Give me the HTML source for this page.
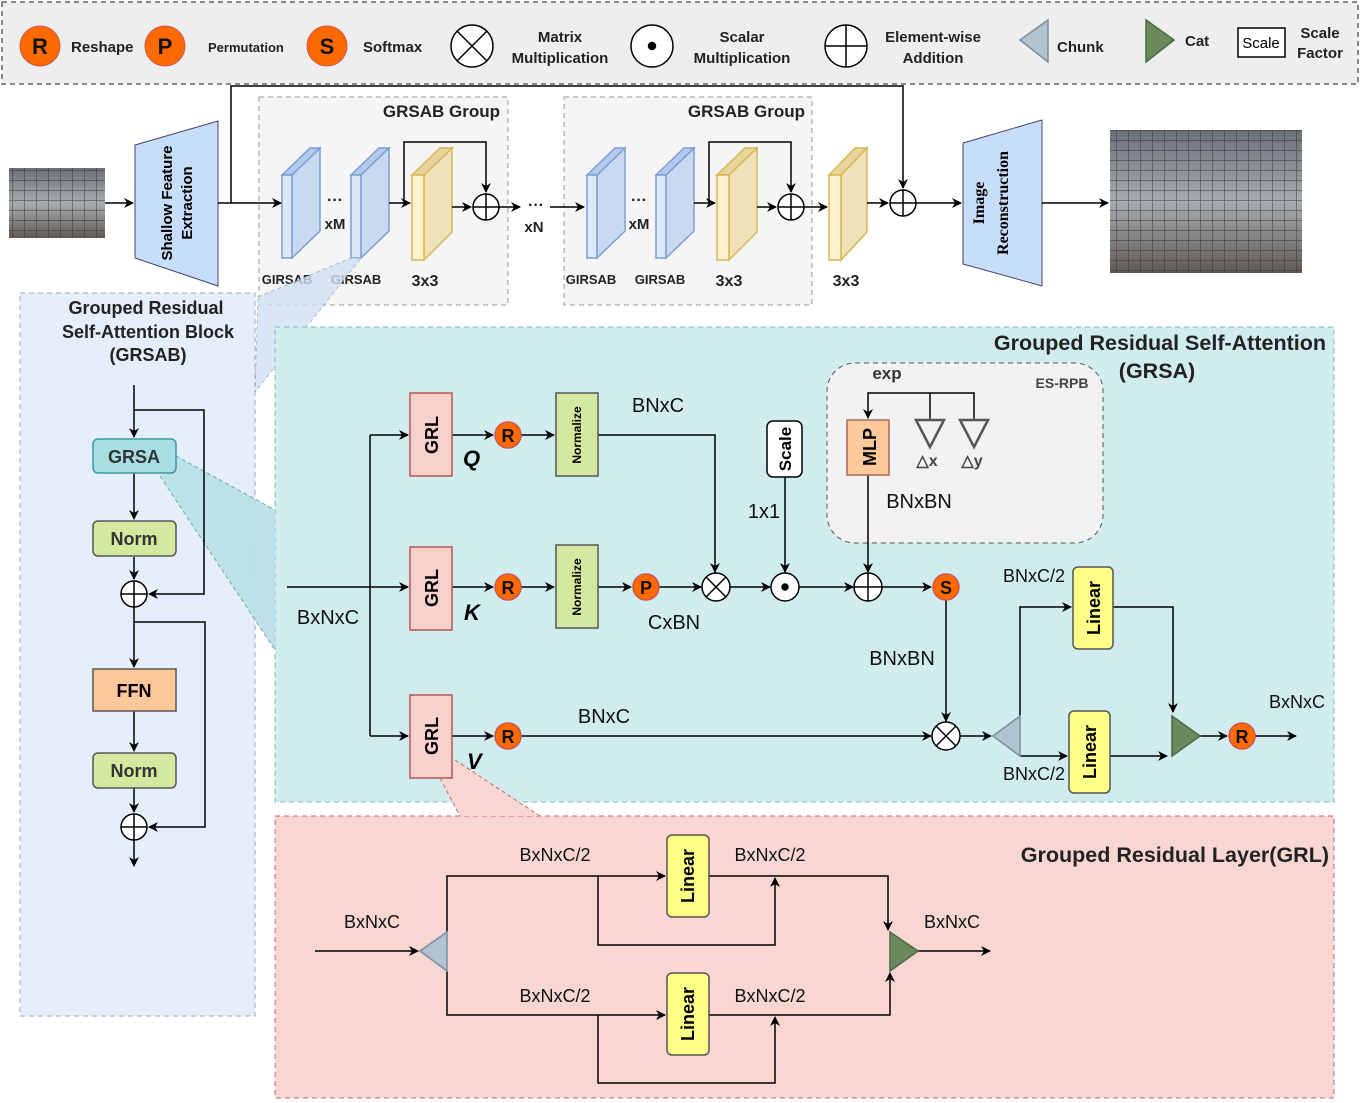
<!DOCTYPE html>
<html><head><meta charset="utf-8"><style>
html,body{margin:0;padding:0;background:#fff;}
svg{display:block;font-family:"Liberation Sans",Arial,sans-serif;}
.b{font-weight:bold;}
</style></head><body>
<svg width="1363" height="1103" viewBox="0 0 1363 1103" xmlns="http://www.w3.org/2000/svg">
<defs>
<marker id="a" markerWidth="10" markerHeight="10" refX="9" refY="5" orient="auto" markerUnits="userSpaceOnUse"><path d="M0,0 L10,5 L0,10 L3,5 z" fill="#000"/></marker>
<linearGradient id="img" x1="0" y1="0" x2="0" y2="1"><stop offset="0" stop-color="#6a7078"/><stop offset="0.5" stop-color="#a8acb0"/><stop offset="1" stop-color="#605a56"/></linearGradient>
<pattern id="grid" width="12" height="10" patternUnits="userSpaceOnUse"><path d="M0,0 H12 M0,0 V10" stroke="#2a2f2a" stroke-width="1.5" fill="none"/></pattern>
</defs>
<g fill="none" stroke="#000" stroke-width="1.5">
<rect x="2" y="2" width="1356" height="82" fill="#eeeeee" stroke="#666" stroke-dasharray="5,4"/>
</g>
<g font-size="15" class="b" fill="#222">
<circle cx="40" cy="46" r="20" fill="#ff6a00" stroke="#c55"/><text x="40" y="54" font-size="22" text-anchor="middle" fill="#111">R</text>
<text x="71" y="52">Reshape</text>
<circle cx="165" cy="46" r="20" fill="#ff6a00" stroke="#c55"/><text x="165" y="54" font-size="22" text-anchor="middle" fill="#111">P</text>
<text x="208" y="52" font-size="13">Permutation</text>
<circle cx="327" cy="46" r="20" fill="#ff6a00" stroke="#c55"/><text x="327" y="54" font-size="22" text-anchor="middle" fill="#111">S</text>
<text x="363" y="52">Softmax</text>
<text x="560" y="42" text-anchor="middle">Matrix</text><text x="560" y="63" text-anchor="middle">Multiplication</text>
<text x="742" y="42" text-anchor="middle">Scalar</text><text x="742" y="63" text-anchor="middle">Multiplication</text>
<text x="933" y="42" text-anchor="middle">Element-wise</text><text x="933" y="63" text-anchor="middle">Addition</text>
<text x="1057" y="52">Chunk</text>
<text x="1185" y="46">Cat</text>
<text x="1320" y="38" text-anchor="middle">Scale</text><text x="1320" y="58" text-anchor="middle">Factor</text>
</g>
<g stroke="#000" stroke-width="1.5" fill="#fff">
<circle cx="472" cy="46" r="21"/><path d="M457,31 L487,61 M487,31 L457,61"/>
<circle cx="652" cy="46" r="21"/><circle cx="652" cy="46" r="3.5" fill="#000"/>
<circle cx="846" cy="46" r="21"/><path d="M825,46 H867 M846,25 V67"/>
<polygon points="1020,40 1048,20 1048,62" fill="#b3c3d0" stroke="#7890a0"/>
<polygon points="1146,20 1146,62 1174,40" fill="#6a8a5e" stroke="#4a6a40"/>
<rect x="1238" y="28" width="47" height="29"/>
</g>
<text x="1261" y="48" font-size="15" text-anchor="middle">Scale</text>

<rect x="9" y="168" width="96" height="70" fill="url(#img)"/><rect x="9" y="168" width="96" height="70" fill="url(#grid)" opacity="0.6"/>
<rect x="1110" y="130" width="192" height="143" fill="url(#img)"/><rect x="1110" y="130" width="192" height="143" fill="url(#grid)" opacity="0.6"/>
<rect x="259" y="97" width="249" height="208" fill="#f5f5f5" stroke="#999" stroke-dasharray="5,4"/>
<rect x="564" y="97" width="248" height="208" fill="#f5f5f5" stroke="#999" stroke-dasharray="5,4"/>
<text x="500" y="117" font-size="17" class="b" text-anchor="end" fill="#222">GRSAB Group</text>
<text x="805" y="117" font-size="17" class="b" text-anchor="end" fill="#222">GRSAB Group</text>
<polygon points="135,145 218,121 218,286 135,258" fill="#c6def8" stroke="#446"/>
<text transform="translate(172,203) rotate(-90)" font-size="15" class="b" text-anchor="middle">Shallow Feature</text>
<text transform="translate(192,203) rotate(-90)" font-size="15" class="b" text-anchor="middle">Extraction</text>
<polygon points="963,143 1042,120 1042,286 963,264" fill="#c6def8" stroke="#446"/>
<text transform="translate(984,203) rotate(-90)" font-size="16" class="b" text-anchor="middle" font-family="Liberation Serif,serif">Image</text>
<text transform="translate(1008,203) rotate(-90)" font-size="16" class="b" text-anchor="middle" font-family="Liberation Serif,serif">Reconstruction</text>

<g stroke-width="1.5">
<g fill="#c9d9f0" stroke="#7a9fd6">
<polygon points="292,175 320,148 320,231 292,258"/><polygon points="282,175 310,148 320,148 292,175" fill="#b5c9ea"/><rect x="282" y="175" width="10" height="83" fill="#dce8f8"/>
<polygon points="361,175 389,148 389,231 361,258"/><polygon points="351,175 379,148 389,148 361,175" fill="#b5c9ea"/><rect x="351" y="175" width="10" height="83" fill="#dce8f8"/>
<polygon points="597,175 625,148 625,231 597,258"/><polygon points="587,175 615,148 625,148 597,175" fill="#b5c9ea"/><rect x="587" y="175" width="10" height="83" fill="#dce8f8"/>
<polygon points="666,175 694,148 694,231 666,258"/><polygon points="656,175 684,148 694,148 666,175" fill="#b5c9ea"/><rect x="656" y="175" width="10" height="83" fill="#dce8f8"/>
</g>
<g fill="#f0e2b8" stroke="#d6b656">
<polygon points="424,175 452,148 452,232 424,260"/><polygon points="412,175 440,148 452,148 424,175" fill="#e8d59c"/><rect x="412" y="175" width="12" height="85" fill="#fff2cc"/>
<polygon points="729,175 757,148 757,232 729,260"/><polygon points="717,175 745,148 757,148 729,175" fill="#e8d59c"/><rect x="717" y="175" width="12" height="85" fill="#fff2cc"/>
<polygon points="841,175 867,148 867,232 841,260"/><polygon points="829,175 855,148 867,148 841,175" fill="#e8d59c"/><rect x="829" y="175" width="12" height="85" fill="#fff2cc"/>
</g>
</g>
<g font-size="13" class="b" fill="#222" text-anchor="middle">
<text x="287" y="284">GIRSAB</text><text x="356" y="284">GIRSAB</text>
<text x="591" y="284">GIRSAB</text><text x="660" y="284">GIRSAB</text>
<text x="425" y="286" font-size="16">3x3</text><text x="729" y="286" font-size="16">3x3</text><text x="846" y="286" font-size="16">3x3</text>
<text x="335" y="205" font-size="16">···</text><text x="335" y="229" font-size="15">xM</text>
<text x="639" y="205" font-size="16">···</text><text x="639" y="229" font-size="15">xM</text>
<text x="536" y="210" font-size="16">···</text><text x="534" y="232" font-size="15">xN</text>
</g>
<g fill="none" stroke="#000" stroke-width="1.5">
<path d="M105,203 H133" marker-end="url(#a)"/>
<path d="M218,203 H281" marker-end="url(#a)"/>
<path d="M231,203 V86 H903 V188" marker-end="url(#a)"/>
<path d="M389,203 H410" marker-end="url(#a)"/>
<path d="M404,203 V142 H486 V192" marker-end="url(#a)"/>
<path d="M452,207 H471" marker-end="url(#a)"/>
<path d="M499,207 H520" marker-end="url(#a)"/>
<path d="M550,207 H584" marker-end="url(#a)"/>
<path d="M694,203 H715" marker-end="url(#a)"/>
<path d="M709,203 V142 H791 V192" marker-end="url(#a)"/>
<path d="M757,207 H776" marker-end="url(#a)"/>
<path d="M804,207 H827" marker-end="url(#a)"/>
<path d="M867,203 H888" marker-end="url(#a)"/>
<path d="M916,203 H961" marker-end="url(#a)"/>
<path d="M1042,203 H1108" marker-end="url(#a)"/>
</g>
<g stroke="#000" stroke-width="1.5" fill="#fff">
<circle cx="486" cy="207" r="13"/><path d="M473,207 H499 M486,194 V220"/>
<circle cx="791" cy="207" r="13"/><path d="M778,207 H804 M791,194 V220"/>
<circle cx="903" cy="203" r="13"/><path d="M890,203 H916 M903,190 V216"/>
</g>

<rect x="20" y="293" width="235" height="723" fill="#e6eefb" stroke="#9ab" stroke-dasharray="5,4"/>
<polygon points="258,297 351,258 361,258 255,392" fill="#d0e0f5" opacity="0.8" stroke="#9ab" stroke-dasharray="4,3"/>
<g font-size="18" class="b" text-anchor="middle" fill="#222">
<text x="146" y="314">Grouped Residual</text><text x="148" y="338">Self-Attention Block</text><text x="148" y="361">(GRSAB)</text>
</g>

<polygon points="275,327 1334,327 1334,802 275,802" fill="#d0ecef" stroke="#7bb" stroke-dasharray="5,4"/>
<polygon points="176,456 275,510 275,650 160,476" fill="#b7dfe4" opacity="0.9"/>
<path d="M176,456 L275,510 M160,476 L275,650" stroke="#6aa" stroke-dasharray="4,3" fill="none"/>
<text x="1326" y="350" font-size="21.5" class="b" text-anchor="end" fill="#222">Grouped Residual Self-Attention</text>
<text x="1157" y="378" font-size="21.5" class="b" text-anchor="middle" fill="#222">(GRSA)</text>

<rect x="275" y="816" width="1059" height="282" fill="#f8d7d3" stroke="#c66" stroke-dasharray="5,4"/>
<polygon points="440,778 460,816 540,816 455,760" fill="#f8d7d3"/>
<path d="M440,778 L460,816 M455,760 L540,816" stroke="#c66" stroke-dasharray="4,3" fill="none"/>
<text x="1329" y="862" font-size="21.5" class="b" text-anchor="end" fill="#222">Grouped Residual Layer(GRL)</text>

<g fill="none" stroke="#000" stroke-width="1.5">
<path d="M134,385 V437" marker-end="url(#a)"/>
<path d="M134,410 H204 V594 H149" marker-end="url(#a)"/>
<path d="M134,473 V519" marker-end="url(#a)"/>
<path d="M134,557 V579" marker-end="url(#a)"/>
<path d="M134,607 V667" marker-end="url(#a)"/>
<path d="M134,622 H205 V827 H149" marker-end="url(#a)"/>
<path d="M134,711 V751" marker-end="url(#a)"/>
<path d="M134,788 V812" marker-end="url(#a)"/>
<path d="M134,840 V866" marker-end="url(#a)"/>
</g>
<g stroke-width="1.5">
<rect x="93" y="439" width="83" height="34" rx="5" fill="#a8dde2" stroke="#3a9aa6"/>
<rect x="93" y="521" width="83" height="35" rx="5" fill="#d5e8a0" stroke="#555"/>
<rect x="93" y="669" width="83" height="42" fill="#ffc89a" stroke="#555"/>
<rect x="93" y="753" width="83" height="35" rx="5" fill="#d5e8a0" stroke="#555"/>
<g stroke="#000" fill="#fff"><circle cx="134" cy="594" r="13"/><path d="M121,594 H147 M134,581 V607"/>
<circle cx="134" cy="827" r="13"/><path d="M121,827 H147 M134,814 V840"/></g>
</g>
<g font-size="18" class="b" text-anchor="middle" fill="#333">
<text x="134" y="463">GRSA</text><text x="134" y="545">Norm</text><text x="134" y="697" fill="#000">FFN</text><text x="134" y="777">Norm</text>
</g>

<g fill="none" stroke="#000" stroke-width="1.5">
<path d="M287,587 H408" marker-end="url(#a)"/>
<path d="M370,435 V736"/>
<path d="M370,435 H408" marker-end="url(#a)"/>
<path d="M370,736 H408" marker-end="url(#a)"/>
<path d="M452,435 H493" marker-end="url(#a)"/>
<path d="M521,435 H554" marker-end="url(#a)"/>
<path d="M598,435 H715 V572" marker-end="url(#a)"/>
<path d="M452,587 H493" marker-end="url(#a)"/>
<path d="M521,587 H554" marker-end="url(#a)"/>
<path d="M598,587 H631" marker-end="url(#a)"/>
<path d="M659,587 H701" marker-end="url(#a)"/>
<path d="M730,587 H770" marker-end="url(#a)"/>
<path d="M785,477 V572" marker-end="url(#a)"/>
<path d="M799,587 H853" marker-end="url(#a)"/>
<path d="M882,587 H931" marker-end="url(#a)"/>
<path d="M946,600 V721" marker-end="url(#a)"/>
<path d="M452,736 H493" marker-end="url(#a)"/>
<path d="M521,736 H931" marker-end="url(#a)"/>
<path d="M960,736 H991" marker-end="url(#a)"/>
<path d="M1020,716 V607 H1071" marker-end="url(#a)"/>
<path d="M1020,756 H1067" marker-end="url(#a)"/>
<path d="M1113,607 H1173 V712" marker-end="url(#a)"/>
<path d="M1110,756 H1167" marker-end="url(#a)"/>
<path d="M1200,736 H1227" marker-end="url(#a)"/>
<path d="M1255,736 H1296" marker-end="url(#a)"/>
</g>
<rect x="827" y="363" width="276" height="180" rx="28" fill="#f2f2f2" stroke="#555" stroke-dasharray="5,4"/>
<g fill="none" stroke="#000" stroke-width="1.5">
<path d="M974,420 V393 H868 V418" marker-end="url(#a)"/>
<path d="M930,420 V393"/>
<path d="M868,475 V572" marker-end="url(#a)"/>
</g>
<g stroke-width="2.5" stroke="#555" fill="none">
<polygon points="916,420 944,420 930,447"/><polygon points="960,420 988,420 974,447"/>
</g>
<text x="887" y="379" font-size="17" class="b" text-anchor="middle" fill="#333">exp</text>
<text x="1062" y="388" font-size="14" class="b" text-anchor="middle" fill="#444">ES-RPB</text>
<text x="927" y="466" font-size="16" class="b" text-anchor="middle" fill="#444">△x</text>
<text x="972" y="466" font-size="16" class="b" text-anchor="middle" fill="#444">△y</text>
<rect x="847" y="420" width="42" height="55" fill="#fcc99a" stroke="#a66" stroke-width="1.5"/>
<text transform="translate(876,447) rotate(-90)" font-size="18" class="b" text-anchor="middle">MLP</text>
<rect x="767" y="421" width="35" height="56" rx="6" fill="#fff" stroke="#000" stroke-width="1.5"/>
<text transform="translate(791,449) rotate(-90)" font-size="17" class="b" text-anchor="middle">Scale</text>

<g stroke-width="1.5">
<rect x="410" y="393" width="42" height="83" fill="#f8d0cc" stroke="#b85450"/>
<rect x="410" y="547" width="42" height="83" fill="#f8d0cc" stroke="#b85450"/>
<rect x="410" y="695" width="42" height="83" fill="#f8d0cc" stroke="#b85450"/>
<rect x="556" y="393" width="42" height="83" fill="#d5e8a0" stroke="#555"/>
<rect x="556" y="545" width="42" height="83" fill="#d5e8a0" stroke="#555"/>
<rect x="1073" y="567" width="40" height="82" rx="5" fill="#ffff88" stroke="#555"/>
<rect x="1069" y="711" width="41" height="82" rx="5" fill="#ffff88" stroke="#555"/>
<polygon points="993,736 1020,716 1020,756" fill="#b3c3d0" stroke="#7890a0"/>
<polygon points="1172,716 1172,756 1200,736" fill="#6a8a5e" stroke="#4a6a40"/>
</g>
<g font-size="18" class="b" text-anchor="middle">
<text transform="translate(438,435) rotate(-90)">GRL</text>
<text transform="translate(438,588) rotate(-90)">GRL</text>
<text transform="translate(438,736) rotate(-90)">GRL</text>
<text transform="translate(581,435) rotate(-90)" font-size="12">Normalize</text>
<text transform="translate(581,587) rotate(-90)" font-size="12">Normalize</text>
<text transform="translate(1100,608) rotate(-90)">Linear</text>
<text transform="translate(1096,752) rotate(-90)">Linear</text>
</g>
<g font-size="22" class="b" font-style="italic"><text x="463" y="466">Q</text><text x="464" y="620">K</text><text x="467" y="769">V</text></g>
<g stroke-width="1.5">
<g fill="#ff6a00" stroke="#c55">
<circle cx="508" cy="435" r="13"/><circle cx="508" cy="587" r="13"/><circle cx="508" cy="736" r="13"/>
<circle cx="646" cy="587" r="13"/><circle cx="946" cy="587" r="13"/><circle cx="1242" cy="736" r="13"/>
</g>
<g stroke="#000" fill="#fff">
<circle cx="716" cy="587" r="14"/><path d="M706,577 L726,597 M726,577 L706,597"/>
<circle cx="785" cy="587" r="14"/><circle cx="785" cy="587" r="3" fill="#000"/>
<circle cx="868" cy="587" r="14"/><path d="M854,587 H882 M868,573 V601"/>
<circle cx="946" cy="736" r="14"/><path d="M936,726 L956,746 M956,726 L936,746"/>
</g>
</g>
<g font-size="18" class="b" text-anchor="middle" fill="#111">
<text x="508" y="442">R</text><text x="508" y="594">R</text><text x="508" y="743">R</text>
<text x="646" y="594">P</text><text x="946" y="594">S</text><text x="1242" y="743">R</text>
</g>
<g font-size="20" fill="#111" text-anchor="middle">
<text x="328" y="624">BxNxC</text><text x="658" y="412">BNxC</text><text x="674" y="629">CxBN</text>
<text x="764" y="518">1x1</text><text x="919" y="508">BNxBN</text><text x="902" y="665">BNxBN</text>
<text x="604" y="723">BNxC</text><text x="1034" y="582" font-size="18">BNxC/2</text><text x="1034" y="780" font-size="18">BNxC/2</text>
<text x="1297" y="708" font-size="18">BxNxC</text>
</g>

<g fill="none" stroke="#000" stroke-width="1.5">
<path d="M315,951 H418" marker-end="url(#a)"/>
<path d="M447,932 V876 H665" marker-end="url(#a)"/>
<path d="M447,971 V1015 H665" marker-end="url(#a)"/>
<path d="M598,876 V945 H775 V878" marker-end="url(#a)"/>
<path d="M598,1015 V1083 H775 V1017" marker-end="url(#a)"/>
<path d="M709,876 H888 V930" marker-end="url(#a)"/>
<path d="M709,1015 H890 V973" marker-end="url(#a)"/>
<path d="M918,951 H990" marker-end="url(#a)"/>
</g>
<g stroke-width="1.5">
<polygon points="420,951 447,932 447,971" fill="#b3c3d0" stroke="#7890a0"/>
<polygon points="890,932 890,971 918,951" fill="#6a8a5e" stroke="#4a6a40"/>
<rect x="667" y="835" width="42" height="82" rx="5" fill="#ffff88" stroke="#555"/>
<rect x="667" y="973" width="42" height="82" rx="5" fill="#ffff88" stroke="#555"/>
</g>
<g font-size="18" class="b" text-anchor="middle">
<text transform="translate(694,876) rotate(-90)">Linear</text>
<text transform="translate(694,1014) rotate(-90)">Linear</text>
</g>
<g font-size="18" fill="#111" text-anchor="middle">
<text x="372" y="928">BxNxC</text><text x="555" y="861">BxNxC/2</text><text x="770" y="861">BxNxC/2</text>
<text x="555" y="1002">BxNxC/2</text><text x="770" y="1002">BxNxC/2</text><text x="952" y="928">BxNxC</text>
</g>
</svg>
</body></html>
